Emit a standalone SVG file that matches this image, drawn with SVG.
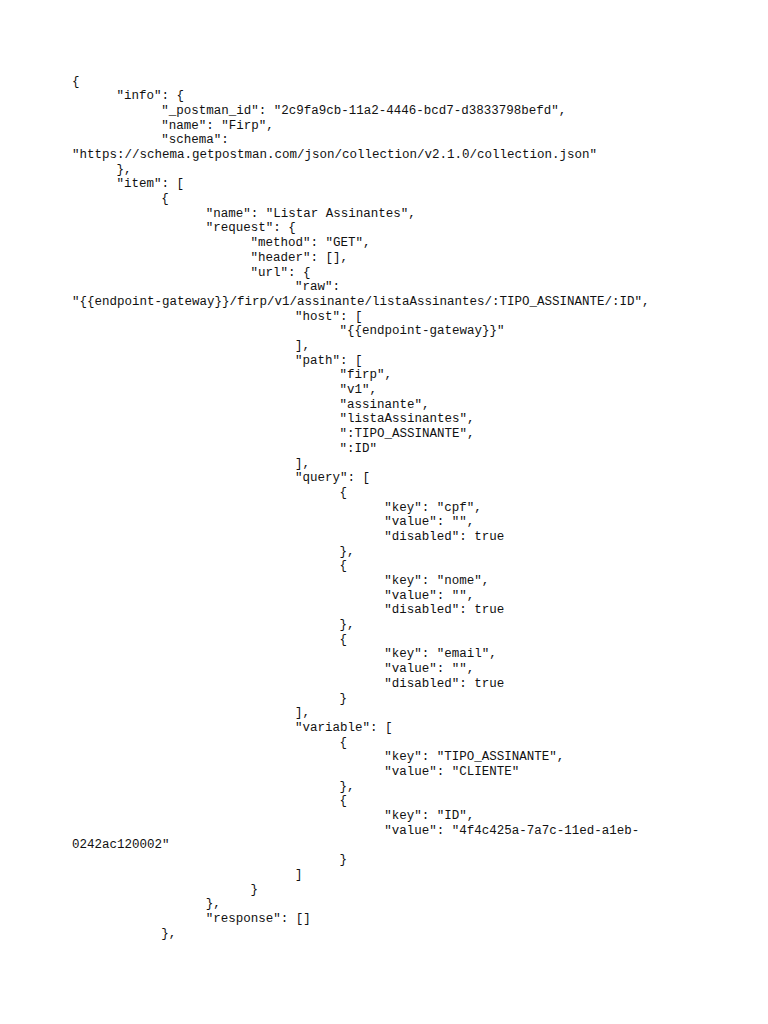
<svg xmlns="http://www.w3.org/2000/svg" width="768" height="1024" viewBox="0 0 768 1024">
<style>text{font-family:"Liberation Mono","DejaVu Sans Mono",monospace;font-size:12.5px;fill:#111;white-space:pre}</style>
<rect width="768" height="1024" fill="#fff"/>
<g id="json">
<text x="72" y="84.5">{</text>
<text x="116.6" y="99.2">"info": {</text>
<text x="161.2" y="113.9">"_postman_id": "2c9fa9cb-11a2-4446-bcd7-d3833798befd",</text>
<text x="161.2" y="128.6">"name": "Firp",</text>
<text x="161.2" y="143.3">"schema":</text>
<text x="72" y="157.9">"https://schema.getpostman.com/json/collection/v2.1.0/collection.json"</text>
<text x="116.6" y="172.6">},</text>
<text x="116.6" y="187.3">"item": [</text>
<text x="161.2" y="202">{</text>
<text x="205.8" y="216.7">"name": "Listar Assinantes",</text>
<text x="205.8" y="231.4">"request": {</text>
<text x="250.4" y="246.1">"method": "GET",</text>
<text x="250.4" y="260.8">"header": [],</text>
<text x="250.4" y="275.5">"url": {</text>
<text x="295" y="290.2">"raw":</text>
<text x="72" y="304.9">"{{endpoint-gateway}}/firp/v1/assinante/listaAssinantes/:TIPO_ASSINANTE/:ID",</text>
<text x="295" y="319.5">"host": [</text>
<text x="339.6" y="334.2">"{{endpoint-gateway}}"</text>
<text x="295" y="348.9">],</text>
<text x="295" y="363.6">"path": [</text>
<text x="339.6" y="378.3">"firp",</text>
<text x="339.6" y="393">"v1",</text>
<text x="339.6" y="407.7">"assinante",</text>
<text x="339.6" y="422.4">"listaAssinantes",</text>
<text x="339.6" y="437.1">":TIPO_ASSINANTE",</text>
<text x="339.6" y="451.8">":ID"</text>
<text x="295" y="466.5">],</text>
<text x="295" y="481.1">"query": [</text>
<text x="339.6" y="495.8">{</text>
<text x="384.2" y="510.5">"key": "cpf",</text>
<text x="384.2" y="525.2">"value": "",</text>
<text x="384.2" y="539.9">"disabled": true</text>
<text x="339.6" y="554.6">},</text>
<text x="339.6" y="569.3">{</text>
<text x="384.2" y="584">"key": "nome",</text>
<text x="384.2" y="598.7">"value": "",</text>
<text x="384.2" y="613.4">"disabled": true</text>
<text x="339.6" y="628.1">},</text>
<text x="339.6" y="642.7">{</text>
<text x="384.2" y="657.4">"key": "email",</text>
<text x="384.2" y="672.1">"value": "",</text>
<text x="384.2" y="686.8">"disabled": true</text>
<text x="339.6" y="701.5">}</text>
<text x="295" y="716.2">],</text>
<text x="295" y="730.9">"variable": [</text>
<text x="339.6" y="745.6">{</text>
<text x="384.2" y="760.3">"key": "TIPO_ASSINANTE",</text>
<text x="384.2" y="775">"value": "CLIENTE"</text>
<text x="339.6" y="789.7">},</text>
<text x="339.6" y="804.3">{</text>
<text x="384.2" y="819">"key": "ID",</text>
<text x="384.2" y="833.7">"value": "4f4c425a-7a7c-11ed-a1eb-</text>
<text x="72" y="848.4">0242ac120002"</text>
<text x="339.6" y="863.1">}</text>
<text x="295" y="877.8">]</text>
<text x="250.4" y="892.5">}</text>
<text x="205.8" y="907.2">},</text>
<text x="205.8" y="921.9">"response": []</text>
<text x="161.2" y="936.6">},</text>
</g>
</svg>
